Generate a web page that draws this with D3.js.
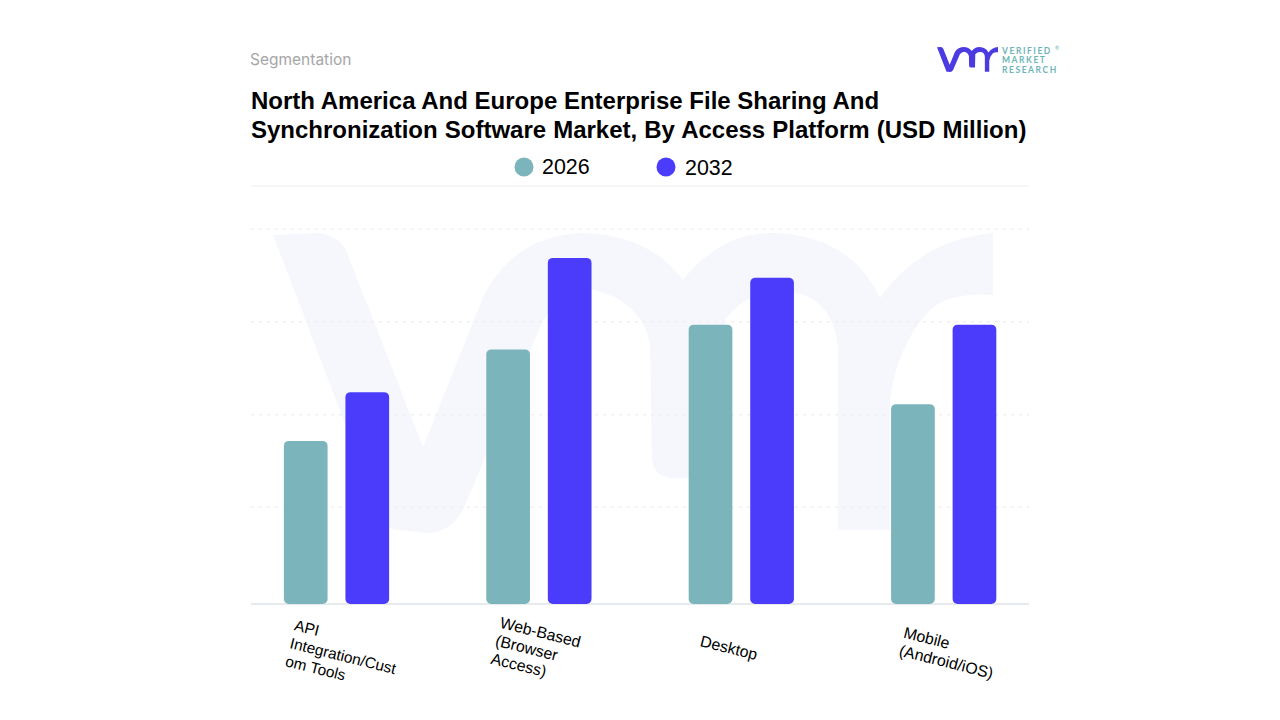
<!DOCTYPE html>
<html><head><meta charset="utf-8">
<script src="https://cdn.jsdelivr.net/npm/d3@7"></script>
<style>html,body{margin:0;background:#fff}svg{display:block}</style></head>
<body><svg id="c" width="1280" height="720"></svg>
<script>
const categories=["API Integration/Custom Tools","Web-Based (Browser Access)","Desktop","Mobile (Android/iOS)"];
const categoryLines=[["API","Integration/Cust","om Tools"],["Web-Based","(Browser","Access)"],["Desktop"],["Mobile","(Android/iOS)"]];
const labelDx=[-43,-40,-42,-41];
const labelDy=[26,23.5,42,33.5];
const labelSizes=[15.4,15.9,15.9,15.9];
const years=["2026","2032"];
const values2026=[43.5,67.9,74.5,53.3];
const values2032=[56.5,92.3,87,74.5];
const gridValues=[100,75.3,50.5,25.8];
const titleLines=["North America And Europe Enterprise File Sharing And","Synchronization Software Market, By Access Platform (USD Million)"];
const colors=["#7BB4BA","#4B3BFB"];
const logoPath="M273 235 L317 233 Q340 235 347 253 L423 447 L483 297 Q515 235 583 233 Q650 235 683 280 Q720 233 773 233 Q850 235 880 298 Q920 240 993 233 L993 295 Q950 292 930 310 Q897 345 890 400 L890 530 L838 530 L838 350 Q835 300 793 292 Q745 290 725 320 L722 478 L670 478 Q652 475 652 457 L650 343 Q640 300 593 290 Q565 290 543 320 L463 510 Q450 533 427 533 L400 530 Q388 530 383 523 Z";
const svg=d3.select("#c");
const x0=d3.scaleBand().domain(categories).range([235.3,1044.9]).paddingInner(.48).paddingOuter(.24);
const x1=d3.scaleBand().domain(years).range([0,x0.bandwidth()]).paddingInner(.29);
const y=d3.scaleLinear().domain([0,100]).range([604,229]);

// watermark
svg.append("path").attr("d",logoPath).attr("fill","#F6F7FD");

// header
svg.append("text").attr("x",250).attr("y",65).attr("font-family","Inter").attr("font-size",15.5).attr("fill","#A6A6A6").text("Segmentation");
svg.append("g").selectAll("text").data(titleLines).join("text").attr("x",251).attr("y",(d,i)=>109+i*29)
 .attr("font-family","Liberation Sans").attr("font-weight",700).attr("font-size",24).attr("word-spacing",(d,i)=>i?.4:0).attr("fill","#000").text(d=>d);

// logo
svg.append("path").attr("d",logoPath).attr("fill","#4B3BE0").attr("transform","translate(937,47) scale(.0847,.0833) translate(-273,-233)");
const lgt=svg.append("g").attr("font-family","Lato").attr("font-size",8.5).attr("font-weight",700).attr("fill","#6DB5B5").attr("letter-spacing",1.55);
["VERIFIED","MARKET","RESEARCH"].forEach((t,i)=>lgt.append("text").attr("x",1002).attr("y",[53.5,63,72.5][i]).text(t));
svg.append("text").attr("x",1055).attr("y",50).attr("font-size",5).attr("fill","#6DB5B5").attr("font-family","Lato").text("®");

// legend
const lx=[524,666],ltx=[542,685],lty=[173.5,175];
years.forEach((yr,i)=>{
 svg.append("circle").attr("cx",lx[i]).attr("cy",167).attr("r",9.5).attr("fill",colors[i]);
 svg.append("text").attr("x",ltx[i]).attr("y",lty[i]).attr("font-family","Liberation Sans").attr("font-size",21.4).attr("fill","#000").text(yr);
});

// grid
svg.append("line").attr("x1",251).attr("x2",1029).attr("y1",186).attr("y2",186).attr("stroke","#F3F3F3").attr("stroke-width",1.5);
svg.append("g").selectAll("line").data(gridValues).join("line").attr("x1",251).attr("x2",1029).attr("y1",d=>y(d)).attr("y2",d=>y(d))
 .attr("stroke","#F0F0F0").attr("stroke-width",1.5).attr("stroke-dasharray","3 5");
svg.append("line").attr("x1",251).attr("x2",1029).attr("y1",y(0)).attr("y2",y(0)).attr("stroke","#E8EBEE").attr("stroke-width",2);

// bars
const series=[values2026,values2032];
series.forEach((vals,s)=>{
 svg.append("g").selectAll("rect").data(vals).join("rect")
  .attr("x",(d,i)=>x0(categories[i])+x1(years[s])).attr("width",x1.bandwidth())
  .attr("y",d=>y(d)).attr("height",d=>y(0)-y(d)).attr("rx",5).attr("fill",colors[s]);
});

// axis
const axis=svg.append("g").attr("transform",`translate(0,${y(0)})`).call(d3.axisBottom(x0).tickSize(0).tickFormat(""));
axis.select(".domain").remove();
axis.selectAll(".tick").each(function(d,i){
 const t=d3.select(this).select("text").attr("text-anchor","start").attr("font-family","Liberation Sans").attr("font-size",labelSizes[i]).attr("fill","#000")
  .attr("y",null).attr("dy",null).attr("transform",`translate(${labelDx[i]},${labelDy[i]}) rotate(14)`);
 categoryLines[i].forEach((l,j)=>t.append("tspan").attr("x",0).attr("dy",j?18.5:0).text(l));
});
</script></body></html>
